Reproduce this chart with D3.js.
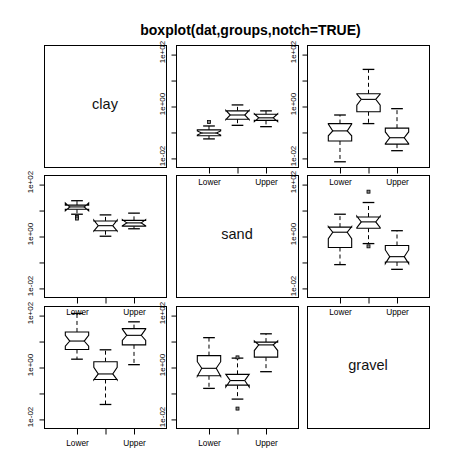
<!DOCTYPE html>
<html><head><meta charset="utf-8">
<script src="https://cdn.jsdelivr.net/npm/d3@7"></script>
<style>
html,body{margin:0;padding:0;background:#fff;}
svg{display:block;font-family:"Liberation Sans",Arial,Helvetica,sans-serif;}
</style></head>
<body><svg id="chart" width="474" height="474"></svg>
<script>
// ---------- data ----------
const title = "boxplot(dat,groups,notch=TRUE)";
const variables = ["clay", "sand", "gravel"];
const groups = ["Lower", "Middle", "Upper"];
const groupTickLabels = ["Lower", "", "Upper"];
const yTickValues = [0.01, 0.1, 1, 10, 100];
const yTickLabels = ["1e-02", "", "1e+00", "", "1e+02"];
// each group: [lowWhisker, q1, median, q3, highWhisker, notchLow, notchHigh]
const stats_1_2 = [
  [0.054, 0.071, 0.091, 0.12, 0.17, 0.076, 0.11],
  [0.18, 0.31, 0.45, 0.65, 1.1, 0.30, 0.68],
  [0.16, 0.28, 0.35, 0.48, 0.65, 0.25, 0.50]
];
const outliers_1_2 = [[0.24], [], []];
const stats_1_3 = [
  [0.0071, 0.045, 0.11, 0.21, 0.45, 0.071, 0.20],
  [0.21, 0.60, 1.8, 2.95, 25.7, 1.07, 2.9],
  [0.019, 0.034, 0.060, 0.14, 0.79, 0.035, 0.10]
];
const outliers_1_3 = [[], [], []];
const stats_2_1 = [
  [6.9, 10.7, 13.2, 15.5, 22.9, 9.3, 18.6],
  [0.98, 1.6, 2.5, 3.8, 6.5, 1.55, 4.1],
  [1.9, 2.4, 3.2, 4.0, 7.6, 2.45, 4.3]
];
const outliers_2_1 = [[5.4, 4.7], [], []];
const stats_2_3 = [
  [0.079, 0.36, 1.4, 2.2, 6.9, 0.79, 2.3],
  [0.51, 2.0, 3.5, 5.4, 19.5, 2.1, 5.8],
  [0.052, 0.10, 0.16, 0.43, 1.6, 0.087, 0.29]
];
const outliers_2_3 = [[], [51, 0.40], []];
const stats_3_1 = [
  [2.0, 4.7, 10, 22.4, 115, 6.3, 16.6],
  [0.036, 0.33, 0.54, 1.6, 4.6, 0.32, 0.98],
  [1.23, 7.1, 16.6, 30, 55, 10.5, 29]
];
const outliers_3_1 = [[], [], []];
const stats_3_2 = [
  [0.15, 0.46, 0.89, 2.75, 13.5, 0.44, 1.6],
  [0.058, 0.20, 0.30, 0.52, 2.2, 0.17, 0.52],
  [0.66, 2.4, 7.1, 9.1, 19, 4.3, 10]
];
const outliers_3_2 = [[], [2.35, 0.025], []];

const panels = [
  {row: 0, col: 1, stats: stats_1_2, out: outliers_1_2},
  {row: 0, col: 2, stats: stats_1_3, out: outliers_1_3},
  {row: 1, col: 0, stats: stats_2_1, out: outliers_2_1},
  {row: 1, col: 2, stats: stats_2_3, out: outliers_2_3},
  {row: 2, col: 0, stats: stats_3_1, out: outliers_3_1},
  {row: 2, col: 1, stats: stats_3_2, out: outliers_3_2}
];

// ---------- layout ----------
const colLeft = [44, 176, 307];
const rowTop = [45, 175, 306];
const pw = 122, ph = 122;
const svg = d3.select("#chart");

svg.append("text").attr("x", 250.5).attr("y", 35).attr("text-anchor", "middle")
  .attr("font-size", 14).attr("font-weight", "bold").text(title);

// diagonal panels
variables.forEach((v, i) => {
  const g = svg.append("g").attr("transform", `translate(${colLeft[i]},${rowTop[i]})`);
  g.append("rect").attr("x", 0.5).attr("y", 0.5).attr("width", pw).attr("height", ph)
    .attr("fill", "none").attr("stroke", "#000").attr("stroke-width", 1);
  g.append("text").attr("x", pw / 2).attr("y", ph / 2 + 3).attr("text-anchor", "middle")
    .attr("font-size", 14.5).attr("fill", "#111").text(v);
});

panels.forEach(p => {
  const x0 = colLeft[p.col], y0 = rowTop[p.row];
  const g = svg.append("g").attr("transform", `translate(${x0},${y0})`);
  const x = d3.scaleLinear().domain([-0.14, 4.14]).range([0, pw]);
  const y = d3.scaleLog().domain([Math.pow(10, -2.35), Math.pow(10, 2.35)]).range([ph, 0]);

  g.append("rect").attr("x", 0.5).attr("y", 0.5).attr("width", pw).attr("height", ph)
    .attr("fill", "none").attr("stroke", "#000").attr("stroke-width", 1);

  // x axis
  const xa = g.append("g").attr("transform", `translate(0.5,${ph + 0.5})`)
    .call(d3.axisBottom(x).tickValues([1, 2, 3]).tickSize(6).tickSizeOuter(0).tickPadding(5.5)
      .tickFormat((d, i) => groupTickLabels[i]));
  xa.select(".domain").remove();
  xa.selectAll("text").attr("font-size", 8.3).attr("font-family", "Liberation Sans, Arial, sans-serif").attr("fill", "#000");
  xa.selectAll("line").attr("stroke", "#000");

  // y axis
  const ya = g.append("g").attr("transform", `translate(0.5,0.5)`)
    .call(d3.axisLeft(y).tickValues(yTickValues).tickSize(5).tickSizeOuter(0).tickFormat(""));
  ya.select(".domain").remove();
  ya.selectAll("line").attr("stroke", "#000");
  yTickValues.forEach((t, i) => {
    if (!yTickLabels[i]) return;
    const ty = y(t) - 2;
    g.append("text").attr("transform", `translate(-11,${ty}) rotate(-90)`)
      .attr("text-anchor", "middle").attr("font-size", 8).attr("fill", "#000").text(yTickLabels[i]);
  });

  const bw = x(1.41) - x(1);   // half box width
  const nw = bw * 0.62;         // notch half width
  const cw = bw * 0.5;          // staple half width
  p.stats.forEach((s, i) => {
    const cx = x(i + 1) + 0.5;
    const [lw, q1, md, q3, hw, nlo, nhi] = s;
    // whiskers
    g.append("line").attr("x1", cx).attr("x2", cx).attr("y1", y(q3)).attr("y2", y(hw))
      .attr("stroke", "#000").attr("stroke-dasharray", "4,3");
    g.append("line").attr("x1", cx).attr("x2", cx).attr("y1", y(q1)).attr("y2", y(lw))
      .attr("stroke", "#000").attr("stroke-dasharray", "4,3");
    // staples
    [lw, hw].forEach(v => g.append("line").attr("x1", cx - cw).attr("x2", cx + cw)
      .attr("y1", y(v)).attr("y2", y(v)).attr("stroke", "#000").attr("stroke-width", 1.3));
    // notched box
    const pts = [
      [cx - bw, y(q1)], [cx - bw, y(nlo)], [cx - nw, y(md)], [cx - bw, y(nhi)], [cx - bw, y(q3)],
      [cx + bw, y(q3)], [cx + bw, y(nhi)], [cx + nw, y(md)], [cx + bw, y(nlo)], [cx + bw, y(q1)]
    ];
    g.append("path").attr("d", d3.line()(pts) + "Z").attr("fill", "#fff")
      .attr("stroke", "#000").attr("stroke-width", 1.1);
    g.append("line").attr("x1", cx - nw).attr("x2", cx + nw).attr("y1", y(md)).attr("y2", y(md))
      .attr("stroke", "#000").attr("stroke-width", 1.1);
    // outliers
    p.out[i].forEach(o => g.append("rect").attr("x", cx - 1.5).attr("y", y(o) - 1.5)
      .attr("width", 3).attr("height", 3)
      .attr("fill", "#888").attr("stroke", "#000").attr("stroke-width", 0.8));
  });
});
</script>
</body></html>
